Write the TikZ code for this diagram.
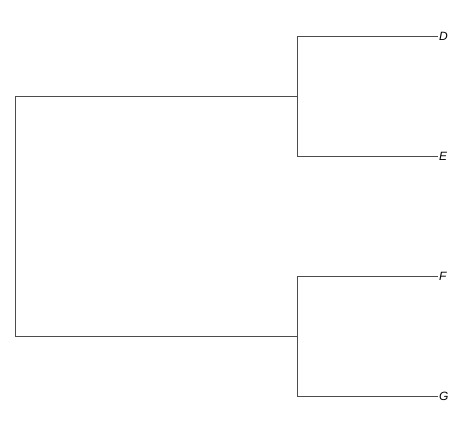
\documentclass[tikz,border=0pt]{standalone}
\usepackage{fontspec}
\setsansfont{Liberation Sans}
\usetikzlibrary{positioning}

\begin{document}
\begin{tikzpicture}[
  x=1pt, y=-1pt,
  font=\sffamily\itshape\fontsize{12}{14}\selectfont,
  leaf/.style={anchor=west, inner sep=1pt},
  branch/.style={draw=black!70, line width=0.9pt}
]
\useasboundingbox (0,0) rectangle (474,422);
% joins
\coordinate (root) at (15,216);
\coordinate (de) at (297,96);
\coordinate (fg) at (297,336);
% leaves
\node[leaf] (D) at (438,36) {D};
\node[leaf] (E) at (438,156) {E};
\node[leaf] (F) at (438,276) {F};
\node[leaf] (G) at (438,396) {G};
% branches
\draw[branch] (root) |- (de);
\draw[branch] (root) |- (fg);
\foreach \l in {D,E} \draw[branch] (de) |- (\l.west);
\foreach \l in {F,G} \draw[branch] (fg) |- (\l.west);
\end{tikzpicture}
\end{document}
